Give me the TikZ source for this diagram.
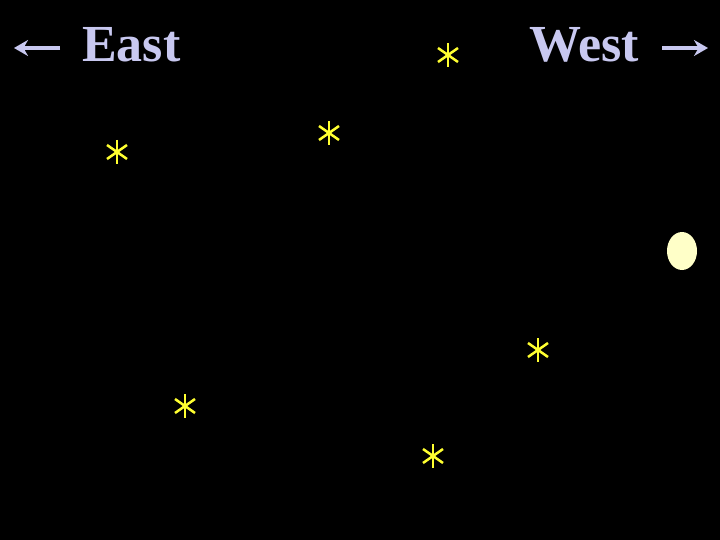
\documentclass[tikz,border=0pt]{standalone}
\usepackage{fontspec}
\setmainfont{Liberation Serif}
\usetikzlibrary{arrows.meta}
\begin{document}
\begin{tikzpicture}[x=1pt,y=-1pt,
  lbl/.style={text=lav,font=\bfseries\fontsize{52}{52}\selectfont,inner sep=0pt},
  arr/.style={draw=lav,line width=4pt,-{Stealth[length=14pt,width=16pt]}},
  star/.style={draw=stary,line width=2.5pt}]
\definecolor{lav}{HTML}{C8C8F0}
\definecolor{stary}{HTML}{FFFF30}
\definecolor{moonc}{HTML}{FFFFC8}
\fill[black] (0,0) rectangle (720,540);
\useasboundingbox (0,0) rectangle (720,540);
\node[lbl,anchor=west] (east) at (82,45) {East};
\node[lbl,anchor=west] (west) at (529,45) {West};
\coordinate (la) at (60,48); \coordinate (lb) at (14,48);
\coordinate (ra) at (662,48); \coordinate (rb) at (708,48);
\draw[arr] (la) -- (lb);
\draw[arr] (ra) -- (rb);
\foreach \x/\y in {448/55,117/152,329/133,538/350,185/406,433/456}{
  \draw[star] (\x,\y-12) -- (\x,\y+12);
  \draw[star] (\x-10,\y-7) -- (\x+10,\y+7);
  \draw[star] (\x-10,\y+7) -- (\x+10,\y-7);
}
\fill[moonc] (682,251) ellipse (15 and 19);
\end{tikzpicture}
\end{document}
